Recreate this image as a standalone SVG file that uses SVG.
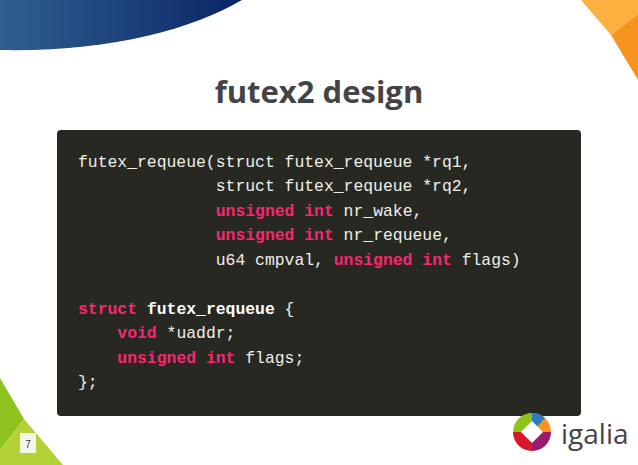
<svg xmlns="http://www.w3.org/2000/svg" width="638" height="465" viewBox="0 0 638 465">
<defs>
<linearGradient id="bl" x1="0" x2="1" y1="0" y2="0"><stop offset="0" stop-color="#2f6090"/><stop offset="1" stop-color="#0b2566"/></linearGradient>
<style>
.c{font-family:"Liberation Mono",monospace;font-size:16.4px;fill:#f0f0ea;white-space:pre}
.k{fill:#f92672;font-weight:bold}
.b{font-weight:bold;fill:#fff}
</style>
</defs>
<rect width="638" height="465" fill="#fff"/>
<path d="M0,0 H242 C190,30 110,52 0,50 Z" fill="url(#bl)"/>
<polygon points="581,0 638,0 638,14 611,35" fill="#fbb040"/>
<polygon points="638,14 611,35 638,80" fill="#f7941d"/>
<polygon points="0,378 24,419 0,450" fill="#8dc21f"/>
<polygon points="24,419 63,465 0,465 0,450" fill="#b2d235"/>
<rect x="20" y="433" width="16" height="20" fill="#f4f7e8"/>
<text x="28" y="448" font-family="Liberation Sans,sans-serif" font-size="10" text-anchor="middle" fill="#333">7</text>
<text x="319" y="103" font-family="Open Sans,sans-serif" font-weight="bold" font-size="31" text-anchor="middle" fill="#444">futex2 design</text>
<g id="code">
<rect x="57" y="130" width="524" height="286" rx="4" fill="#272822"/>
<text class="c" x="78" y="167">futex_requeue(struct futex_requeue *rq1,</text>
<text class="c" x="78" y="191">              struct futex_requeue *rq2,</text>
<text class="c" x="78" y="216">              <tspan class="k">unsigned</tspan> <tspan class="k">int</tspan> nr_wake,</text>
<text class="c" x="78" y="240">              <tspan class="k">unsigned</tspan> <tspan class="k">int</tspan> nr_requeue,</text>
<text class="c" x="78" y="265">              u64 cmpval, <tspan class="k">unsigned</tspan> <tspan class="k">int</tspan> flags)</text>
<text class="c" x="78" y="314"><tspan class="k">struct</tspan> <tspan class="b">futex_requeue</tspan> {</text>
<text class="c" x="78" y="338">    <tspan class="k">void</tspan> *uaddr;</text>
<text class="c" x="78" y="363">    <tspan class="k">unsigned</tspan> <tspan class="k">int</tspan> flags;</text>
<text class="c" x="78" y="387">};</text>
</g>
<g id="logo">
<path d="M532,432 L532,413 A19,19 0 0 1 551,432 Z" fill="#f7941d"/>
<path d="M532,432 L551,432 A19,19 0 0 1 532,451 Z" fill="#9b1b6e"/>
<path d="M532,432 L532,451 A19,19 0 0 1 513,432 Z" fill="#d7182a"/>
<path d="M532,432 L513,432 A19,19 0 0 1 532,413 Z" fill="#8dc21f"/>
<path d="M532,413 A19,19 0 0 1 545,418 L532,432 Z" fill="#2e7bbf"/>
<polygon points="532,421 543,432 532,443 521,432" fill="#fff"/>
<text x="561" y="444" font-family="Open Sans,sans-serif" font-size="28" fill="#444">igalia</text>
</g>
</svg>
